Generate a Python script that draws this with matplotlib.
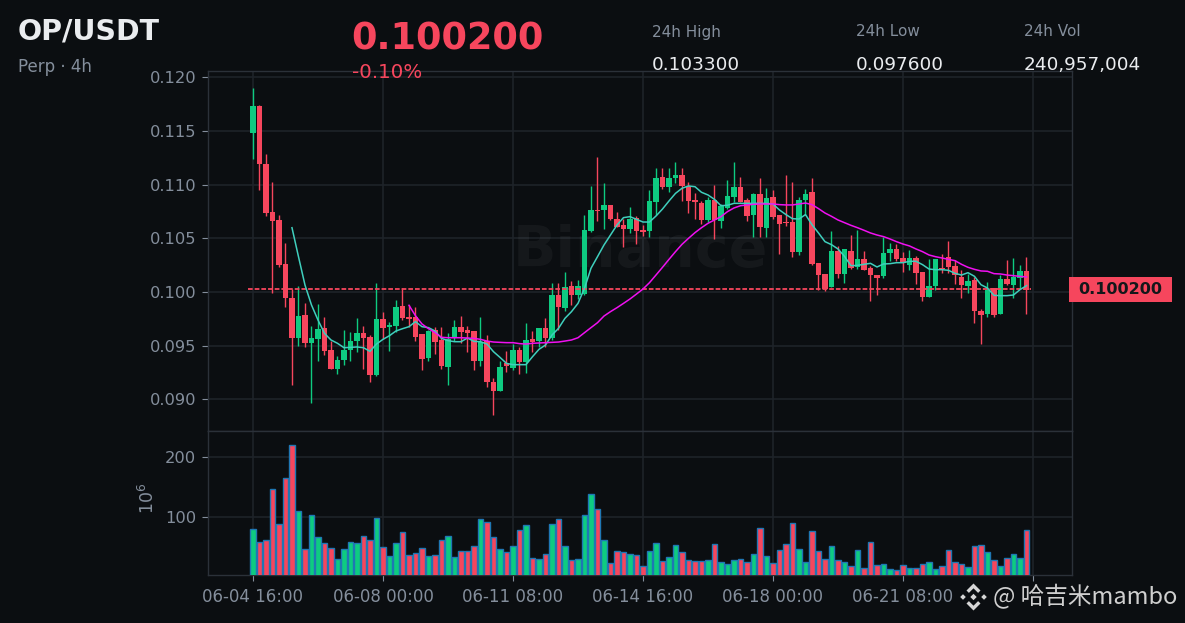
import numpy as np
import matplotlib
matplotlib.use("Agg")
import matplotlib.pyplot as plt
from matplotlib.patches import Polygon
from matplotlib.ticker import FormatStrFormatter, FixedLocator

# prices are in 0.001 USDT
opens = [114.85,117.33,111.93,107.42,106.71,102.61,99.44,95.74,97.86,95.25,95.65,96.61,94.60,92.86,93.69,94.60,95.47,96.15,95.81,92.30,
 97.48,96.74,96.86,98.70,97.64,97.64,96.06,93.88,96.46,95.53,93.04,95.81,96.74,96.46,96.37,93.60,95.47,91.61,90.78,93.42,
 92.95,94.60,93.48,95.62,95.43,96.65,95.71,99.72,98.54,100.56,99.69,99.81,105.72,107.64,107.64,108.11,106.80,106.24,105.87,106.86,
 105.78,105.68,108.42,110.72,109.78,110.62,110.90,109.88,108.54,108.29,106.71,108.57,106.62,107.80,108.85,109.78,108.57,107.17,109.13,105.99,
 108.85,107.17,106.49,106.55,103.76,108.60,109.29,102.73,101.71,100.50,103.85,101.71,103.85,102.30,103.11,102.27,101.62,101.52,103.67,104.04,
 103.20,102.55,103.20,101.89,99.57,100.59,102.24,103.26,102.45,101.43,100.56,101.15,98.26,97.98,100.40,97.98,101.24,100.68,101.27,101.99]
closes = [117.33,111.96,107.39,106.65,102.52,99.47,95.74,97.76,95.25,95.71,96.55,94.53,92.86,93.66,94.60,95.43,96.15,95.74,92.30,97.48,
 96.68,96.93,98.60,97.61,97.48,95.84,93.79,96.37,95.37,93.14,95.59,96.74,96.30,96.18,93.60,95.37,91.64,90.81,93.01,93.10,
 94.60,93.48,95.53,95.31,96.65,95.68,99.72,98.60,100.47,99.72,100.56,105.78,107.64,107.55,108.11,106.80,106.09,105.90,106.80,105.68,
 105.62,108.48,110.62,109.78,110.62,110.90,109.88,108.48,108.39,106.71,108.57,106.71,108.01,108.95,109.78,108.39,107.08,109.13,106.09,108.73,
 106.99,106.34,106.40,103.76,108.60,109.16,102.64,101.62,100.25,103.85,101.71,103.98,102.24,103.11,102.08,101.55,101.34,103.67,104.04,103.11,
 102.70,103.20,101.80,99.57,100.59,103.11,102.14,102.36,101.55,100.68,101.06,98.26,97.89,100.22,97.89,101.24,100.78,101.37,101.99,100.20]
highs = [118.98,117.42,112.83,110.28,107.14,104.53,100.31,100.59,99.01,96.86,98.85,97.64,95.47,94.04,96.46,96.24,97.61,96.80,95.99,100.87,
 98.17,97.17,99.29,100.34,98.76,98.57,96.06,96.46,96.77,96.71,96.15,97.39,97.79,96.80,96.37,97.70,95.99,91.96,93.60,94.53,
 95.12,94.84,97.08,96.33,96.65,97.55,100.87,100.87,101.89,100.99,101.09,107.21,109.91,112.55,110.13,108.11,107.42,106.80,107.95,107.08,
 106.24,109.50,111.52,111.52,111.52,112.14,111.52,110.22,109.19,108.48,108.88,109.97,108.17,110.44,112.14,110.68,108.73,109.26,110.59,109.72,
 109.50,107.17,110.93,110.22,108.82,109.60,110.62,102.73,101.71,105.65,104.32,104.01,105.31,105.75,103.82,102.39,101.62,105.12,104.57,104.44,
 103.70,103.88,103.32,101.89,103.04,103.11,103.54,104.75,103.01,102.02,101.68,101.37,98.45,100.96,100.40,101.55,102.98,103.14,102.48,103.30]
lows = [112.36,109.50,107.11,99.88,102.36,98.57,91.33,94.97,94.91,89.69,93.57,94.10,92.86,92.33,93.20,93.57,94.38,92.79,91.58,92.14,
 95.59,94.50,96.30,97.42,96.77,95.40,92.70,93.54,94.19,92.83,91.30,95.47,95.22,94.38,92.70,93.07,91.12,88.54,90.78,92.58,
 92.70,92.33,92.42,94.38,94.84,94.84,95.53,96.46,98.26,98.79,99.32,99.75,105.62,106.65,105.84,106.71,106.03,104.16,105.47,104.44,
 105.25,105.16,107.17,109.57,109.35,110.13,108.48,107.33,106.77,106.31,106.55,104.91,105.93,107.70,108.42,108.36,106.65,105.09,105.09,105.16,
 106.77,103.51,106.18,103.26,103.42,107.17,102.52,100.22,100.12,100.43,101.27,100.84,102.17,102.17,102.08,99.13,99.72,101.30,102.86,102.86,
 101.86,102.08,100.75,99.16,99.53,100.16,101.77,101.77,100.75,99.44,99.88,97.11,95.15,97.67,97.67,97.95,100.68,99.44,100.37,97.95]
ma7 = [105.99,103.29,100.65,98.79,97.39,96.15,95.53,95.22,94.81,94.84,94.88,94.81,94.47,95.15,95.59,95.93,96.37,96.58,96.77,97.24,
 96.77,96.68,96.37,95.68,95.47,95.37,95.37,95.71,95.40,95.37,95.15,94.44,93.91,93.35,
 93.23,93.23,93.23,93.97,94.66,95.06,95.99,96.61,97.55,98.17,98.94,100.34,102.21,103.29,104.38,105.31,106.24,106.93,107.02,106.77,
 106.52,106.52,107.08,107.73,108.48,109.19,109.66,109.88,109.81,109.29,109.04,108.63,108.04,108.08,108.26,108.26,108.26,108.26,108.26,108.26,
 108.20,107.64,107.21,106.83,106.80,107.21,106.27,105.50,104.69,104.41,104.01,103.32,102.45,102.48,102.58,102.67,102.33,102.61,102.64,102.73,
 102.73,102.86,102.86,102.55,102.14,102.08,102.08,102.02,101.74,101.58,101.80,101.46,100.68,100.37,99.69,99.66,99.66,99.72,100.22,100.59]
ma25 = [98.76,97.79,97.02,96.58,96.21,95.78,95.74,95.74,95.74,95.71,95.68,95.59,95.43,95.34,95.31,95.28,
 95.28,95.19,95.15,95.22,95.25,95.28,95.31,95.34,95.43,95.53,95.74,96.21,96.68,97.14,97.76,98.17,98.54,98.94,99.35,99.81,
 100.28,100.87,101.58,102.30,103.04,103.76,104.44,105.00,105.53,105.99,106.40,106.71,107.02,107.49,107.83,108.04,108.11,108.17,108.20,108.20,
 108.20,108.14,108.11,108.11,108.20,108.29,108.14,107.77,107.36,107.05,106.71,106.46,106.21,105.99,105.75,105.50,105.31,105.16,104.94,104.69,
 104.47,104.29,104.01,103.76,103.45,103.29,103.17,103.04,102.92,102.58,102.30,102.11,101.96,101.93,101.71,101.68,101.58,101.52,101.46,101.40]
volumes = [80,58.3,61.7,146.7,88.3,165,220,110,46.7,103.3,66.7,56.7,48.3,30,46.7,58.3,56.7,68.3,61.7,98.3,
 50,35,56.7,75,36.7,40,48.3,35,36.7,61.7,68.3,33.3,43.3,43.3,51.7,96.7,91.7,66.7,46.7,41.7,
 51.7,78.3,86.7,31.7,30,38.3,88.3,96.7,51.7,28.3,30,103.3,138.3,113.3,61.7,23.3,43.3,41.7,38.3,36.7,
 18.3,43.3,56.7,26.7,33.3,53.3,41.7,28.3,26.7,26.7,28.3,55,25,21.7,28.3,30,25,38.3,81.7,35,
 23.3,45,55,90,46.7,25,76.7,43.3,30,51.7,28.3,25,18.3,45,15,58.3,20,21.7,13.3,11.7,
 20,15,15,21.7,25,13.3,18.3,45,25,21.7,16.7,51.7,53.3,41.7,28.3,18.3,31.7,38.3,31.7,78.3]
tick_labels = ["06-04 16:00","06-08 00:00","06-11 08:00","06-14 16:00","06-18 00:00","06-21 08:00",""]
last_price = 0.10025

BG = "#0b0e11"; GRID = "#1e2329"; SPINE = "#2b3139"; MUTED = "#848e9c"
UP = "#0ecb81"; DOWN = "#f6465d"; TEAL = "#3fcfbd"; MAG = "#f010f0"; WHITE = "#eaecef"

plt.rcParams['font.family'] = ['DejaVu Sans']
W, H = 1185, 623
fig = plt.figure(figsize=(W/100, H/100), dpi=100, facecolor=BG)
def rect(l, t, r, b):
    return [l/W, 1-b/H, (r-l)/W, (b-t)/H]
ax = fig.add_axes(rect(208, 71, 1072, 431), facecolor=BG)
vx = fig.add_axes(rect(208, 431, 1072, 575), facecolor=BG, sharex=ax)

o = np.array(opens)/1000; c = np.array(closes)/1000
h = np.array(highs)/1000; l = np.array(lows)/1000
x = np.arange(len(o))
cols = [UP if ci >= oi else DOWN for oi, ci in zip(o, c)]

for a in (ax, vx):
    a.set_axisbelow(True)
    a.grid(True, color=GRID, lw=1.2)
    for s in a.spines.values():
        s.set_color(SPINE); s.set_linewidth(1)
    a.tick_params(axis='y', colors=MUTED, labelsize=11.7, length=4, width=0.8, pad=4.6)
    a.tick_params(axis='x', colors=MUTED, labelsize=12, length=4, width=0.8, pad=5)

ax.text(0.5, 0.5, "Binance", transform=ax.transAxes, ha="center", va="center",
        fontsize=41, fontweight="bold", color="#ffffff", alpha=0.045, zorder=1)
ax.vlines(x, l, h, colors=cols, lw=1, zorder=2)
ax.bar(x, np.maximum(np.abs(c-o), 0.00008), bottom=np.minimum(o, c), width=0.78, color=cols, linewidth=0, zorder=3)
ax.plot(x[6:], np.array(ma7)/1000, color=TEAL, lw=1.1, zorder=5)
ax.plot(x[24:], np.array(ma25)/1000, color=MAG, lw=1.1, zorder=5)
ax.hlines(last_price, -0.8, 119.7, colors=DOWN, linestyles=(0, (2.6, 1.1)), lw=1.3, zorder=4)

ax.set_ylim(0.08705, 0.12059)
ax.yaxis.set_major_locator(FixedLocator([0.09, 0.095, 0.10, 0.105, 0.11, 0.115, 0.12]))
ax.yaxis.set_major_formatter(FormatStrFormatter('%.3f'))
ax.tick_params(axis='x', which='both', bottom=False, labelbottom=False)

vx.bar(x, volumes, width=0.85, color=cols, edgecolor="#1f77b4", linewidth=1, zorder=3)
vx.set_ylim(3.9, 243.8)
vx.set_yticks([100, 200])
vx.set_ylabel(r"$10^6$", color=MUTED, fontsize=12.5, labelpad=5, y=0.53)
vx.set_xlim(-6.92, 126)
vx.set_xticks(np.arange(0, 121, 20))
vx.set_xticklabels(tick_labels)

def T(px, py, s, **kw):
    kw.setdefault("va", "center"); kw.setdefault("ha", "left")
    return fig.text(px/W, 1-py/H, s, **kw)

# last price tag
fig.add_artist(plt.Rectangle((1069/W, 1-302/H), 103/W, 25/H, transform=fig.transFigure, fc=DOWN, ec="none", zorder=5))
T(1120.5, 289, "0.100200", ha="center", fontsize=11.5, fontweight="bold", color="#14171a", zorder=6)

T(18, 31, "OP/USDT", fontsize=20.5, fontweight="bold", color=WHITE)
T(18, 67, "Perp · 4h", fontsize=12, color=MUTED)
T(351.5, 39, "0.100200", fontsize=26.4, fontweight="bold", color=DOWN)
T(352, 72, "-0.10%", fontsize=14.3, color=DOWN)
for px, lab, val in [(652, "24h High", "0.103300"), (856, "24h Low", "0.097600"), (1024, "24h Vol", "240,957,004")]:
    T(px, 32, lab, fontsize=11, color=MUTED)
    T(px, 64.5, val, fontsize=13.3, color=WHITE)

# footer mark
T(993, 597, "@ 哈吉米mambo", fontsize=17, color="#cfcfcf",
  family=['Noto Sans CJK SC', 'DejaVu Sans'])
cx, cy, r = 973.5, 597, 13.5
logo = "#d6d6d6"
def diamond(dx, dy, rad):
    pts = [(cx+dx, cy+dy-rad), (cx+dx+rad, cy+dy), (cx+dx, cy+dy+rad), (cx+dx-rad, cy+dy)]
    fig.add_artist(Polygon([(p/W, 1-q/H) for p, q in pts], closed=True, transform=fig.transFigure, fc=logo, ec="none"))
def chevron(sx, sy):
    pts = [(0, -13.5), (7, -6.5), (4.6, -4.1), (0, -8.7), (-4.6, -4.1), (-7, -6.5)]
    fig.add_artist(Polygon([((cx+sx*a)/W, 1-(cy+sy*b)/H) for a, b in pts], closed=True, transform=fig.transFigure, fc=logo, ec="none"))
diamond(0, 0, 3.2); diamond(-10.5, 0, 2.8); diamond(10.5, 0, 2.8)
chevron(1, 1); chevron(1, -1)

fig.savefig("out.png", dpi=100, facecolor=BG)
